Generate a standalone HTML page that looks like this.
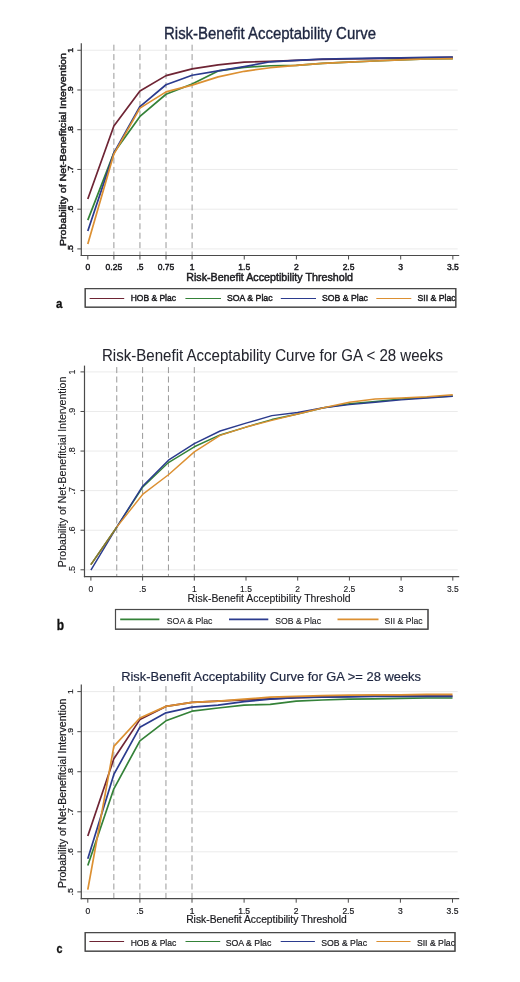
<!DOCTYPE html>
<html><head><meta charset="utf-8"><title>Risk-Benefit Acceptability Curves</title>
<style>html,body{margin:0;padding:0;background:#fff;}svg{display:block;filter:blur(0.35px);}text{stroke:#1a1a1e;stroke-width:0.45px;}.cb text{stroke-width:0.12px;}.cc text{stroke-width:0.2px;}</style></head>
<body><svg width="520" height="982" viewBox="0 0 520 982" font-family='"Liberation Sans", Arial, sans-serif'>
<rect width="520" height="982" fill="#fff"/>
<g class="ca"><line x1="82.3" y1="248.91" x2="457.7" y2="248.91" stroke="#ebebeb" stroke-width="1"/>
<line x1="82.3" y1="209.18" x2="457.7" y2="209.18" stroke="#ebebeb" stroke-width="1"/>
<line x1="82.3" y1="169.45" x2="457.7" y2="169.45" stroke="#ebebeb" stroke-width="1"/>
<line x1="82.3" y1="129.72" x2="457.7" y2="129.72" stroke="#ebebeb" stroke-width="1"/>
<line x1="82.3" y1="89.99" x2="457.7" y2="89.99" stroke="#ebebeb" stroke-width="1"/>
<line x1="82.3" y1="50.26" x2="457.7" y2="50.26" stroke="#ebebeb" stroke-width="1"/>
<line x1="113.88" y1="44.7" x2="113.88" y2="255.5" stroke="#999999" stroke-width="1" stroke-dasharray="6 3.4"/>
<line x1="139.95" y1="44.7" x2="139.95" y2="255.5" stroke="#999999" stroke-width="1" stroke-dasharray="6 3.4"/>
<line x1="166.02" y1="44.7" x2="166.02" y2="255.5" stroke="#999999" stroke-width="1" stroke-dasharray="6 3.4"/>
<line x1="192.1" y1="44.7" x2="192.1" y2="255.5" stroke="#999999" stroke-width="1" stroke-dasharray="6 3.4"/>
<polyline points="87.8,199 113.88,126.02 139.95,91.09 166.02,75.64 192.1,68.91 218.18,64.95 244.25,62.18 270.32,61.39 296.4,60.4 322.47,59.41 348.55,59.01 374.62,58.62 400.7,58.22 426.77,57.82 452.85,57.43" fill="none" stroke="#6e2434" stroke-width="1.7" stroke-linejoin="round"/>
<polyline points="87.8,220.18 113.88,152.86 139.95,116.43 166.02,94.26 192.1,83.96 218.18,70.89 244.25,67.33 270.32,65.74 296.4,65.35 322.47,63.37 348.55,62.18 374.62,60.99 400.7,59.8 426.77,59.01 452.85,58.62" fill="none" stroke="#348238" stroke-width="1.7" stroke-linejoin="round"/>
<polyline points="87.8,231.07 113.88,152.86 139.95,106.53 166.02,84.75 192.1,75.25 218.18,70.89 244.25,66.54 270.32,61.78 296.4,60.4 322.47,59.01 348.55,58.62 374.62,58.22 400.7,57.82 426.77,57.43 452.85,57.03" fill="none" stroke="#2b3b8e" stroke-width="1.7" stroke-linejoin="round"/>
<polyline points="87.8,243.94 113.88,154.05 139.95,108.12 166.02,91.88 192.1,85.15 218.18,76.83 244.25,71.29 270.32,67.72 296.4,65.35 322.47,63.37 348.55,62.18 374.62,60.99 400.7,59.8 426.77,59.01 452.85,58.62" fill="none" stroke="#dc9032" stroke-width="1.7" stroke-linejoin="round"/>
<line x1="81.3" y1="43.2" x2="81.3" y2="256.1" stroke="#4a4a4a" stroke-width="1.2"/>
<line x1="80.7" y1="255.5" x2="459.2" y2="255.5" stroke="#4a4a4a" stroke-width="1.2"/>
<line x1="77.3" y1="248.91" x2="81.3" y2="248.91" stroke="#4a4a4a" stroke-width="1"/>
<text transform="translate(73,248.91) rotate(-90)" text-anchor="middle" font-size="8.0" fill="#1a1a1e" textLength="7.34" lengthAdjust="spacingAndGlyphs">.5</text>
<line x1="77.3" y1="209.18" x2="81.3" y2="209.18" stroke="#4a4a4a" stroke-width="1"/>
<text transform="translate(73,209.18) rotate(-90)" text-anchor="middle" font-size="8.0" fill="#1a1a1e" textLength="7.34" lengthAdjust="spacingAndGlyphs">.6</text>
<line x1="77.3" y1="169.45" x2="81.3" y2="169.45" stroke="#4a4a4a" stroke-width="1"/>
<text transform="translate(73,169.45) rotate(-90)" text-anchor="middle" font-size="8.0" fill="#1a1a1e" textLength="7.34" lengthAdjust="spacingAndGlyphs">.7</text>
<line x1="77.3" y1="129.72" x2="81.3" y2="129.72" stroke="#4a4a4a" stroke-width="1"/>
<text transform="translate(73,129.72) rotate(-90)" text-anchor="middle" font-size="8.0" fill="#1a1a1e" textLength="7.34" lengthAdjust="spacingAndGlyphs">.8</text>
<line x1="77.3" y1="89.99" x2="81.3" y2="89.99" stroke="#4a4a4a" stroke-width="1"/>
<text transform="translate(73,89.99) rotate(-90)" text-anchor="middle" font-size="8.0" fill="#1a1a1e" textLength="7.34" lengthAdjust="spacingAndGlyphs">.9</text>
<line x1="77.3" y1="50.26" x2="81.3" y2="50.26" stroke="#4a4a4a" stroke-width="1"/>
<text transform="translate(73,50.26) rotate(-90)" text-anchor="middle" font-size="8.0" fill="#1a1a1e" textLength="4.89" lengthAdjust="spacingAndGlyphs">1</text>
<line x1="87.8" y1="255.5" x2="87.8" y2="259.5" stroke="#4a4a4a" stroke-width="1"/>
<text x="87.8" y="269.8" text-anchor="middle" font-size="8.5" fill="#1a1a1e">0</text>
<line x1="113.88" y1="255.5" x2="113.88" y2="259.5" stroke="#4a4a4a" stroke-width="1"/>
<text x="113.88" y="269.8" text-anchor="middle" font-size="8.5" fill="#1a1a1e">0.25</text>
<line x1="139.95" y1="255.5" x2="139.95" y2="259.5" stroke="#4a4a4a" stroke-width="1"/>
<text x="139.95" y="269.8" text-anchor="middle" font-size="8.5" fill="#1a1a1e">.5</text>
<line x1="166.02" y1="255.5" x2="166.02" y2="259.5" stroke="#4a4a4a" stroke-width="1"/>
<text x="166.02" y="269.8" text-anchor="middle" font-size="8.5" fill="#1a1a1e">0.75</text>
<line x1="192.1" y1="255.5" x2="192.1" y2="259.5" stroke="#4a4a4a" stroke-width="1"/>
<text x="192.1" y="269.8" text-anchor="middle" font-size="8.5" fill="#1a1a1e">1</text>
<line x1="244.25" y1="255.5" x2="244.25" y2="259.5" stroke="#4a4a4a" stroke-width="1"/>
<text x="244.25" y="269.8" text-anchor="middle" font-size="8.5" fill="#1a1a1e">1.5</text>
<line x1="296.4" y1="255.5" x2="296.4" y2="259.5" stroke="#4a4a4a" stroke-width="1"/>
<text x="296.4" y="269.8" text-anchor="middle" font-size="8.5" fill="#1a1a1e">2</text>
<line x1="348.55" y1="255.5" x2="348.55" y2="259.5" stroke="#4a4a4a" stroke-width="1"/>
<text x="348.55" y="269.8" text-anchor="middle" font-size="8.5" fill="#1a1a1e">2.5</text>
<line x1="400.7" y1="255.5" x2="400.7" y2="259.5" stroke="#4a4a4a" stroke-width="1"/>
<text x="400.7" y="269.8" text-anchor="middle" font-size="8.5" fill="#1a1a1e">3</text>
<line x1="452.85" y1="255.5" x2="452.85" y2="259.5" stroke="#4a4a4a" stroke-width="1"/>
<text x="452.85" y="269.8" text-anchor="middle" font-size="8.5" fill="#1a1a1e">3.5</text>
<text x="164" y="39" font-size="16.0" fill="#1e2640" style="stroke:#1e2640;stroke-width:0.35px" textLength="212" lengthAdjust="spacingAndGlyphs">Risk-Benefit Acceptability Curve</text>
<text transform="translate(66.2,149.6) rotate(-90)" text-anchor="middle" font-size="9.4" fill="#1a1a1e" textLength="193" lengthAdjust="spacingAndGlyphs">Probability of Net-Benefitcial Intervention</text>
<text x="186.2" y="281" font-size="10.7" fill="#1a1a1e" textLength="166.8" lengthAdjust="spacingAndGlyphs">Risk-Benefit Acceptibility Threshold</text>
<clipPath id="clip0"><rect x="85.2" y="288.6" width="370.6" height="18.6"/></clipPath>
<rect x="85.2" y="288.6" width="370.6" height="18.6" fill="#fff" stroke="#4a4a4a" stroke-width="1.1"/>
<g clip-path="url(#clip0)"><line x1="89.6" y1="298.5" x2="124.2" y2="298.5" stroke="#6e2434" stroke-width="1.2"/><text x="130.7" y="301.4" font-size="9.0" fill="#1a1a1e" textLength="45.2" lengthAdjust="spacingAndGlyphs">HOB &amp; Plac</text><line x1="185.4" y1="298.5" x2="221" y2="298.5" stroke="#348238" stroke-width="1.2"/><text x="227" y="301.4" font-size="9.0" fill="#1a1a1e" textLength="45.6" lengthAdjust="spacingAndGlyphs">SOA &amp; Plac</text><line x1="280.8" y1="298.5" x2="316" y2="298.5" stroke="#2b3b8e" stroke-width="1.2"/><text x="322" y="301.4" font-size="9.0" fill="#1a1a1e" textLength="45.8" lengthAdjust="spacingAndGlyphs">SOB &amp; Plac</text><line x1="376.3" y1="298.5" x2="411.3" y2="298.5" stroke="#dc9032" stroke-width="1.2"/><text x="417.5" y="301.4" font-size="9.0" fill="#1a1a1e" textLength="38.1" lengthAdjust="spacingAndGlyphs">SII &amp; Plac</text></g>
<rect x="85.2" y="288.6" width="370.6" height="18.6" fill="none" stroke="#4a4a4a" stroke-width="1.1"/>
<text x="56" y="307.6" font-size="13.0" font-weight="bold" fill="#111" style="stroke:#111;stroke-width:0.3px" textLength="6.4" lengthAdjust="spacingAndGlyphs">a</text></g>
<g class="cb"><line x1="85.5" y1="569.8" x2="457.7" y2="569.8" stroke="#ebebeb" stroke-width="1"/>
<line x1="85.5" y1="530.22" x2="457.7" y2="530.22" stroke="#ebebeb" stroke-width="1"/>
<line x1="85.5" y1="490.64" x2="457.7" y2="490.64" stroke="#ebebeb" stroke-width="1"/>
<line x1="85.5" y1="451.06" x2="457.7" y2="451.06" stroke="#ebebeb" stroke-width="1"/>
<line x1="85.5" y1="411.48" x2="457.7" y2="411.48" stroke="#ebebeb" stroke-width="1"/>
<line x1="85.5" y1="371.9" x2="457.7" y2="371.9" stroke="#ebebeb" stroke-width="1"/>
<line x1="116.75" y1="367.1" x2="116.75" y2="576.6" stroke="#999999" stroke-width="1" stroke-dasharray="6 3.4"/>
<line x1="142.6" y1="367.1" x2="142.6" y2="576.6" stroke="#999999" stroke-width="1" stroke-dasharray="6 3.4"/>
<line x1="168.45" y1="367.1" x2="168.45" y2="576.6" stroke="#999999" stroke-width="1" stroke-dasharray="6 3.4"/>
<line x1="194.3" y1="367.1" x2="194.3" y2="576.6" stroke="#999999" stroke-width="1" stroke-dasharray="6 3.4"/>
<polyline points="90.9,564.57 116.75,527.14 142.6,487.35 168.45,462.53 194.3,446.77 220.15,434.95 246,427.07 271.85,419.58 297.7,414.06 323.55,407.76 349.4,403.82 375.25,401.46 401.1,399.09 426.95,397.52 452.8,395.94" fill="none" stroke="#348238" stroke-width="1.45" stroke-linejoin="round"/>
<polyline points="90.9,570.09 116.75,527.14 142.6,486.17 168.45,460.16 194.3,443.61 220.15,431.01 246,423.13 271.85,415.64 297.7,412.49 323.55,407.76 349.4,404.61 375.25,402.24 401.1,399.88 426.95,397.91 452.8,396.33" fill="none" stroke="#2b3b8e" stroke-width="1.45" stroke-linejoin="round"/>
<polyline points="90.9,564.57 116.75,527.14 142.6,494.44 168.45,474.74 194.3,451.89 220.15,435.34 246,427.07 271.85,420.37 297.7,414.06 323.55,407.76 349.4,402.24 375.25,399.09 401.1,397.91 426.95,396.73 452.8,394.76" fill="none" stroke="#dc9032" stroke-width="1.45" stroke-linejoin="round"/>
<polyline points="90.9,564.57 116.75,527.14" fill="none" stroke="#7c7a34" stroke-width="1.45"/>
<line x1="84.5" y1="365.6" x2="84.5" y2="577.2" stroke="#4a4a4a" stroke-width="1.2"/>
<line x1="83.9" y1="576.6" x2="459.2" y2="576.6" stroke="#4a4a4a" stroke-width="1.2"/>
<line x1="80.5" y1="569.8" x2="84.5" y2="569.8" stroke="#4a4a4a" stroke-width="1"/>
<text transform="translate(75.3,569.8) rotate(-90)" text-anchor="middle" font-size="9.0" fill="#1a1a1e" textLength="7.51" lengthAdjust="spacingAndGlyphs">.5</text>
<line x1="80.5" y1="530.22" x2="84.5" y2="530.22" stroke="#4a4a4a" stroke-width="1"/>
<text transform="translate(75.3,530.22) rotate(-90)" text-anchor="middle" font-size="9.0" fill="#1a1a1e" textLength="7.51" lengthAdjust="spacingAndGlyphs">.6</text>
<line x1="80.5" y1="490.64" x2="84.5" y2="490.64" stroke="#4a4a4a" stroke-width="1"/>
<text transform="translate(75.3,490.64) rotate(-90)" text-anchor="middle" font-size="9.0" fill="#1a1a1e" textLength="7.51" lengthAdjust="spacingAndGlyphs">.7</text>
<line x1="80.5" y1="451.06" x2="84.5" y2="451.06" stroke="#4a4a4a" stroke-width="1"/>
<text transform="translate(75.3,451.06) rotate(-90)" text-anchor="middle" font-size="9.0" fill="#1a1a1e" textLength="7.51" lengthAdjust="spacingAndGlyphs">.8</text>
<line x1="80.5" y1="411.48" x2="84.5" y2="411.48" stroke="#4a4a4a" stroke-width="1"/>
<text transform="translate(75.3,411.48) rotate(-90)" text-anchor="middle" font-size="9.0" fill="#1a1a1e" textLength="7.51" lengthAdjust="spacingAndGlyphs">.9</text>
<line x1="80.5" y1="371.9" x2="84.5" y2="371.9" stroke="#4a4a4a" stroke-width="1"/>
<text transform="translate(75.3,371.9) rotate(-90)" text-anchor="middle" font-size="9.0" fill="#1a1a1e" textLength="5" lengthAdjust="spacingAndGlyphs">1</text>
<line x1="90.9" y1="576.6" x2="90.9" y2="580.6" stroke="#4a4a4a" stroke-width="1"/>
<text x="90.9" y="591.5" text-anchor="middle" font-size="8.5" fill="#1a1a1e">0</text>
<line x1="142.6" y1="576.6" x2="142.6" y2="580.6" stroke="#4a4a4a" stroke-width="1"/>
<text x="142.6" y="591.5" text-anchor="middle" font-size="8.5" fill="#1a1a1e">.5</text>
<line x1="194.3" y1="576.6" x2="194.3" y2="580.6" stroke="#4a4a4a" stroke-width="1"/>
<text x="194.3" y="591.5" text-anchor="middle" font-size="8.5" fill="#1a1a1e">1</text>
<line x1="246" y1="576.6" x2="246" y2="580.6" stroke="#4a4a4a" stroke-width="1"/>
<text x="246" y="591.5" text-anchor="middle" font-size="8.5" fill="#1a1a1e">1.5</text>
<line x1="297.7" y1="576.6" x2="297.7" y2="580.6" stroke="#4a4a4a" stroke-width="1"/>
<text x="297.7" y="591.5" text-anchor="middle" font-size="8.5" fill="#1a1a1e">2</text>
<line x1="349.4" y1="576.6" x2="349.4" y2="580.6" stroke="#4a4a4a" stroke-width="1"/>
<text x="349.4" y="591.5" text-anchor="middle" font-size="8.5" fill="#1a1a1e">2.5</text>
<line x1="401.1" y1="576.6" x2="401.1" y2="580.6" stroke="#4a4a4a" stroke-width="1"/>
<text x="401.1" y="591.5" text-anchor="middle" font-size="8.5" fill="#1a1a1e">3</text>
<line x1="452.8" y1="576.6" x2="452.8" y2="580.6" stroke="#4a4a4a" stroke-width="1"/>
<text x="452.8" y="591.5" text-anchor="middle" font-size="8.5" fill="#1a1a1e">3.5</text>
<text x="102" y="360.8" font-size="16.2" fill="#24252e" style="stroke:#24252e;stroke-width:0.05px" textLength="341" lengthAdjust="spacingAndGlyphs">Risk-Benefit Acceptability Curve for GA &lt; 28 weeks</text>
<text transform="translate(65.6,472) rotate(-90)" text-anchor="middle" font-size="10.5" fill="#1a1a1e" textLength="190.5" lengthAdjust="spacingAndGlyphs">Probability of Net-Benefitcial Intervention</text>
<text x="187.6" y="602" font-size="10.5" fill="#1a1a1e" textLength="163" lengthAdjust="spacingAndGlyphs">Risk-Benefit Acceptibility Threshold</text>
<clipPath id="clip1"><rect x="115.5" y="609.5" width="312.5" height="19.7"/></clipPath>
<rect x="115.5" y="609.5" width="312.5" height="19.7" fill="#fff" stroke="#4a4a4a" stroke-width="1.1"/>
<g clip-path="url(#clip1)"><line x1="120.2" y1="619.4" x2="159.4" y2="619.4" stroke="#348238" stroke-width="1.6"/><text x="166.8" y="623.5" font-size="9.8" fill="#1a1a1e" textLength="45.6" lengthAdjust="spacingAndGlyphs">SOA &amp; Plac</text><line x1="229" y1="619.4" x2="268.3" y2="619.4" stroke="#2b3b8e" stroke-width="1.6"/><text x="275.2" y="623.5" font-size="9.8" fill="#1a1a1e" textLength="45.8" lengthAdjust="spacingAndGlyphs">SOB &amp; Plac</text><line x1="337.5" y1="619.4" x2="378.5" y2="619.4" stroke="#dc9032" stroke-width="1.6"/><text x="384.6" y="623.5" font-size="9.8" fill="#1a1a1e" textLength="37.9" lengthAdjust="spacingAndGlyphs">SII &amp; Plac</text></g>
<rect x="115.5" y="609.5" width="312.5" height="19.7" fill="none" stroke="#4a4a4a" stroke-width="1.1"/>
<text x="56.7" y="629.9" font-size="14.2" font-weight="bold" fill="#111" style="stroke:#111;stroke-width:0.3px" textLength="7.3" lengthAdjust="spacingAndGlyphs">b</text></g>
<g class="cc"><line x1="82.3" y1="891.9" x2="457.7" y2="891.9" stroke="#ebebeb" stroke-width="1"/>
<line x1="82.3" y1="851.84" x2="457.7" y2="851.84" stroke="#ebebeb" stroke-width="1"/>
<line x1="82.3" y1="811.78" x2="457.7" y2="811.78" stroke="#ebebeb" stroke-width="1"/>
<line x1="82.3" y1="771.72" x2="457.7" y2="771.72" stroke="#ebebeb" stroke-width="1"/>
<line x1="82.3" y1="731.66" x2="457.7" y2="731.66" stroke="#ebebeb" stroke-width="1"/>
<line x1="82.3" y1="691.6" x2="457.7" y2="691.6" stroke="#ebebeb" stroke-width="1"/>
<line x1="113.85" y1="686.1" x2="113.85" y2="898.7" stroke="#999999" stroke-width="1" stroke-dasharray="6 3.4"/>
<line x1="139.9" y1="686.1" x2="139.9" y2="898.7" stroke="#999999" stroke-width="1" stroke-dasharray="6 3.4"/>
<line x1="165.95" y1="686.1" x2="165.95" y2="898.7" stroke="#999999" stroke-width="1" stroke-dasharray="6 3.4"/>
<line x1="192" y1="686.1" x2="192" y2="898.7" stroke="#999999" stroke-width="1" stroke-dasharray="6 3.4"/>
<polyline points="87.8,836 113.85,758.8 139.9,719.6 165.95,706.4 192,702.4 218.05,701.2 244.1,700 270.15,698.8 296.2,697.6 322.25,696.8 348.3,696.4 374.35,696 400.4,696 426.45,696 452.5,696" fill="none" stroke="#6e2434" stroke-width="1.7" stroke-linejoin="round"/>
<polyline points="87.8,865.6 113.85,788.8 139.9,740.8 165.95,720.8 192,711.2 218.05,708 244.1,705.2 270.15,704.4 296.2,701.2 322.25,700 348.3,699.2 374.35,698.8 400.4,698.4 426.45,698 452.5,698" fill="none" stroke="#348238" stroke-width="1.7" stroke-linejoin="round"/>
<polyline points="87.8,858.8 113.85,774.4 139.9,727.2 165.95,712.8 192,707.2 218.05,705.2 244.1,701.6 270.15,699.2 296.2,697.6 322.25,697.2 348.3,696.8 374.35,696.4 400.4,696.4 426.45,696.4 452.5,696.4" fill="none" stroke="#2b3b8e" stroke-width="1.7" stroke-linejoin="round"/>
<polyline points="87.8,889.6 113.85,746.4 139.9,718 165.95,706.4 192,702.4 218.05,701.2 244.1,699.2 270.15,697.2 296.2,696.4 322.25,695.6 348.3,695.2 374.35,694.8 400.4,694.8 426.45,694.4 452.5,694.4" fill="none" stroke="#dc9032" stroke-width="1.7" stroke-linejoin="round"/>
<line x1="81.3" y1="684.6" x2="81.3" y2="899.3" stroke="#4a4a4a" stroke-width="1.2"/>
<line x1="80.7" y1="898.7" x2="459.2" y2="898.7" stroke="#4a4a4a" stroke-width="1.2"/>
<line x1="77.3" y1="891.9" x2="81.3" y2="891.9" stroke="#4a4a4a" stroke-width="1"/>
<text transform="translate(72.8,891.9) rotate(-90)" text-anchor="middle" font-size="8.0" fill="#1a1a1e" textLength="7.34" lengthAdjust="spacingAndGlyphs">.5</text>
<line x1="77.3" y1="851.84" x2="81.3" y2="851.84" stroke="#4a4a4a" stroke-width="1"/>
<text transform="translate(72.8,851.84) rotate(-90)" text-anchor="middle" font-size="8.0" fill="#1a1a1e" textLength="7.34" lengthAdjust="spacingAndGlyphs">.6</text>
<line x1="77.3" y1="811.78" x2="81.3" y2="811.78" stroke="#4a4a4a" stroke-width="1"/>
<text transform="translate(72.8,811.78) rotate(-90)" text-anchor="middle" font-size="8.0" fill="#1a1a1e" textLength="7.34" lengthAdjust="spacingAndGlyphs">.7</text>
<line x1="77.3" y1="771.72" x2="81.3" y2="771.72" stroke="#4a4a4a" stroke-width="1"/>
<text transform="translate(72.8,771.72) rotate(-90)" text-anchor="middle" font-size="8.0" fill="#1a1a1e" textLength="7.34" lengthAdjust="spacingAndGlyphs">.8</text>
<line x1="77.3" y1="731.66" x2="81.3" y2="731.66" stroke="#4a4a4a" stroke-width="1"/>
<text transform="translate(72.8,731.66) rotate(-90)" text-anchor="middle" font-size="8.0" fill="#1a1a1e" textLength="7.34" lengthAdjust="spacingAndGlyphs">.9</text>
<line x1="77.3" y1="691.6" x2="81.3" y2="691.6" stroke="#4a4a4a" stroke-width="1"/>
<text transform="translate(72.8,691.6) rotate(-90)" text-anchor="middle" font-size="8.0" fill="#1a1a1e" textLength="4.89" lengthAdjust="spacingAndGlyphs">1</text>
<line x1="87.8" y1="898.7" x2="87.8" y2="902.7" stroke="#4a4a4a" stroke-width="1"/>
<text x="87.8" y="913.8" text-anchor="middle" font-size="8.5" fill="#1a1a1e">0</text>
<line x1="139.9" y1="898.7" x2="139.9" y2="902.7" stroke="#4a4a4a" stroke-width="1"/>
<text x="139.9" y="913.8" text-anchor="middle" font-size="8.5" fill="#1a1a1e">.5</text>
<line x1="192" y1="898.7" x2="192" y2="902.7" stroke="#4a4a4a" stroke-width="1"/>
<text x="192" y="913.8" text-anchor="middle" font-size="8.5" fill="#1a1a1e">1</text>
<line x1="244.1" y1="898.7" x2="244.1" y2="902.7" stroke="#4a4a4a" stroke-width="1"/>
<text x="244.1" y="913.8" text-anchor="middle" font-size="8.5" fill="#1a1a1e">1.5</text>
<line x1="296.2" y1="898.7" x2="296.2" y2="902.7" stroke="#4a4a4a" stroke-width="1"/>
<text x="296.2" y="913.8" text-anchor="middle" font-size="8.5" fill="#1a1a1e">2</text>
<line x1="348.3" y1="898.7" x2="348.3" y2="902.7" stroke="#4a4a4a" stroke-width="1"/>
<text x="348.3" y="913.8" text-anchor="middle" font-size="8.5" fill="#1a1a1e">2.5</text>
<line x1="400.4" y1="898.7" x2="400.4" y2="902.7" stroke="#4a4a4a" stroke-width="1"/>
<text x="400.4" y="913.8" text-anchor="middle" font-size="8.5" fill="#1a1a1e">3</text>
<line x1="452.5" y1="898.7" x2="452.5" y2="902.7" stroke="#4a4a4a" stroke-width="1"/>
<text x="452.5" y="913.8" text-anchor="middle" font-size="8.5" fill="#1a1a1e">3.5</text>
<text x="121.2" y="680.6" font-size="13.0" fill="#1e2640" style="stroke:#1e2640;stroke-width:0.2px" textLength="299.8" lengthAdjust="spacingAndGlyphs">Risk-Benefit Acceptability Curve for GA &gt;= 28 weeks</text>
<text transform="translate(66.4,793.3) rotate(-90)" text-anchor="middle" font-size="10.0" fill="#1a1a1e" textLength="189.4" lengthAdjust="spacingAndGlyphs">Probability of Net-Benefitcial Intervention</text>
<text x="186.2" y="923.4" font-size="10.3" fill="#1a1a1e" textLength="160.6" lengthAdjust="spacingAndGlyphs">Risk-Benefit Acceptibility Threshold</text>
<clipPath id="clip2"><rect x="85.2" y="932.6" width="369.8" height="18.6"/></clipPath>
<rect x="85.2" y="932.6" width="369.8" height="18.6" fill="#fff" stroke="#4a4a4a" stroke-width="1.1"/>
<g clip-path="url(#clip2)"><line x1="89.4" y1="941.5" x2="124.1" y2="941.5" stroke="#6e2434" stroke-width="1.2"/><text x="130.7" y="945.6" font-size="9.1" fill="#1a1a1e" textLength="45.6" lengthAdjust="spacingAndGlyphs">HOB &amp; Plac</text><line x1="185.5" y1="941.5" x2="220.2" y2="941.5" stroke="#348238" stroke-width="1.2"/><text x="225.7" y="945.6" font-size="9.1" fill="#1a1a1e" textLength="45.6" lengthAdjust="spacingAndGlyphs">SOA &amp; Plac</text><line x1="280.7" y1="941.5" x2="314.9" y2="941.5" stroke="#2b3b8e" stroke-width="1.2"/><text x="321.2" y="945.6" font-size="9.1" fill="#1a1a1e" textLength="45.8" lengthAdjust="spacingAndGlyphs">SOB &amp; Plac</text><line x1="376.4" y1="941.5" x2="410.5" y2="941.5" stroke="#dc9032" stroke-width="1.2"/><text x="416.9" y="945.6" font-size="9.1" fill="#1a1a1e" textLength="38.1" lengthAdjust="spacingAndGlyphs">SII &amp; Plac</text></g>
<rect x="85.2" y="932.6" width="369.8" height="18.6" fill="none" stroke="#4a4a4a" stroke-width="1.1"/>
<text x="56.4" y="952.6" font-size="13.0" font-weight="bold" fill="#111" style="stroke:#111;stroke-width:0.3px" textLength="6" lengthAdjust="spacingAndGlyphs">c</text></g>
</svg></body></html>
